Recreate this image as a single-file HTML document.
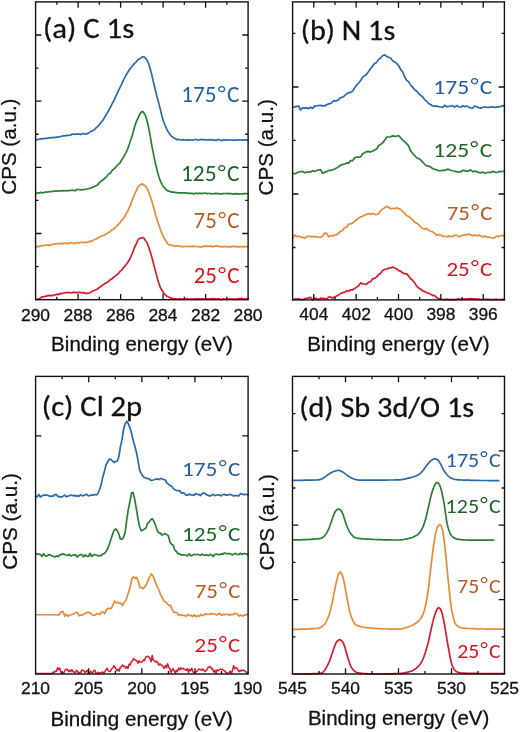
<!DOCTYPE html>
<html><head><meta charset="utf-8"><title>XPS spectra</title>
<style>html,body{margin:0;padding:0;background:#fff;}svg{display:block;}</style></head>
<body><svg width="520" height="732" viewBox="0 0 520 732">
<rect width="520" height="732" fill="#fff"/>
<polyline points="36.0,139.8 37.5,139.7 39.0,139.3 40.5,138.7 42.0,139.0 43.5,138.7 45.0,138.3 46.5,138.3 48.0,138.1 49.5,137.9 51.0,137.7 52.5,137.7 54.0,137.3 55.5,137.3 57.0,137.0 58.5,137.1 60.0,136.7 61.5,136.3 63.0,135.9 64.5,135.8 66.0,135.6 67.5,135.3 69.0,135.5 70.5,135.2 72.0,134.1 73.5,134.1 75.0,134.3 76.5,134.1 78.0,134.2 79.5,134.1 81.0,134.5 82.5,133.6 84.0,133.7 85.5,134.2 87.0,133.6 88.5,133.1 90.0,132.1 91.5,131.0 93.0,130.6 94.5,129.6 96.0,127.9 97.5,126.6 99.0,125.0 100.5,123.0 102.0,121.3 103.5,119.2 105.0,116.8 106.5,114.1 108.0,111.8 109.5,109.1 111.0,106.2 112.5,103.0 114.0,100.3 115.5,96.8 117.0,94.1 118.5,90.4 120.0,87.7 121.5,84.5 123.0,81.2 124.5,78.1 126.0,75.2 127.5,72.8 129.0,70.3 130.5,68.2 132.0,66.5 133.5,64.4 135.0,62.9 136.5,61.6 138.0,59.6 139.5,58.9 141.0,57.9 142.5,56.8 144.0,57.0 145.5,58.2 147.0,60.0 148.5,63.4 150.0,67.9 151.5,73.4 153.0,80.4 154.5,86.5 156.0,92.7 157.5,98.6 159.0,104.1 160.5,110.0 162.0,116.4 163.5,121.5 165.0,125.2 166.5,128.7 168.0,131.5 169.5,133.8 171.0,135.8 172.5,137.1 174.0,137.9 175.5,138.7 177.0,139.7 178.5,139.3 180.0,140.0 181.5,140.0 183.0,139.6 184.5,140.0 186.0,139.8 187.5,140.1 189.0,139.9 190.5,140.0 192.0,140.1 193.5,139.9 195.0,139.5 196.5,139.4 198.0,140.2 199.5,139.7 201.0,139.5 202.5,139.7 204.0,139.7 205.5,140.0 207.0,139.8 208.5,139.8 210.0,139.7 211.5,140.0 213.0,139.7 214.5,140.2 216.0,140.4 217.5,139.7 219.0,139.5 220.5,140.3 222.0,140.7 223.5,139.8 225.0,139.8 226.5,140.2 228.0,139.9 229.5,140.0 231.0,140.0 232.5,140.2 234.0,140.0 235.5,140.2 237.0,140.1 238.5,139.9 240.0,140.0 241.5,139.9 243.0,140.1 244.5,139.8 246.0,139.8 247.5,140.5 248.0,140.1" fill="none" stroke="#2a6aab" stroke-width="1.7" stroke-linejoin="round" stroke-linecap="round"/>
<polyline points="36.0,193.4 37.5,193.0 39.0,192.9 40.5,192.2 42.0,193.0 43.5,192.7 45.0,192.1 46.5,192.2 48.0,191.9 49.5,191.5 51.0,191.8 52.5,191.3 54.0,191.2 55.5,191.0 57.0,191.2 58.5,190.9 60.0,191.0 61.5,190.7 63.0,190.8 64.5,190.5 66.0,190.8 67.5,190.6 69.0,190.6 70.5,190.5 72.0,190.1 73.5,190.4 75.0,190.7 76.5,189.7 78.0,189.5 79.5,189.5 81.0,189.9 82.5,189.6 84.0,189.7 85.5,189.4 87.0,189.0 88.5,188.7 90.0,188.2 91.5,188.0 93.0,187.0 94.5,186.5 96.0,185.7 97.5,185.0 99.0,183.1 100.5,181.7 102.0,180.5 103.5,179.6 105.0,177.9 106.5,176.9 108.0,174.6 109.5,173.8 111.0,172.2 112.5,170.0 114.0,168.8 115.5,167.5 117.0,165.7 118.5,164.3 120.0,162.8 121.5,160.3 123.0,157.9 124.5,155.3 126.0,152.7 127.5,149.3 129.0,145.4 130.5,140.8 132.0,136.2 133.5,130.7 135.0,125.6 136.5,121.1 138.0,118.2 139.5,114.7 141.0,112.2 142.5,111.4 144.0,112.9 145.5,115.8 147.0,120.8 148.5,127.1 150.0,134.9 151.5,143.8 153.0,151.6 154.5,159.2 156.0,165.8 157.5,171.8 159.0,177.2 160.5,181.2 162.0,184.4 163.5,186.8 165.0,188.4 166.5,190.1 168.0,191.1 169.5,191.1 171.0,192.1 172.5,191.9 174.0,192.4 175.5,192.4 177.0,192.7 178.5,192.8 180.0,192.8 181.5,192.8 183.0,192.8 184.5,192.8 186.0,192.7 187.5,193.1 189.0,193.3 190.5,193.4 192.0,193.4 193.5,193.9 195.0,193.4 196.5,193.2 198.0,193.8 199.5,193.1 201.0,193.6 202.5,193.2 204.0,193.5 205.5,193.0 207.0,193.7 208.5,193.5 210.0,193.3 211.5,194.0 213.0,193.7 214.5,193.6 216.0,193.4 217.5,193.6 219.0,193.6 220.5,193.8 222.0,193.9 223.5,193.5 225.0,193.5 226.5,193.6 228.0,193.4 229.5,193.6 231.0,193.7 232.5,193.9 234.0,194.1 235.5,193.6 237.0,193.9 238.5,193.7 240.0,194.3 241.5,193.8 243.0,193.9 244.5,193.6 246.0,193.6 247.5,193.9 248.0,193.7" fill="none" stroke="#2c7f32" stroke-width="1.7" stroke-linejoin="round" stroke-linecap="round"/>
<polyline points="36.0,247.5 37.5,246.1 39.0,246.6 40.5,246.0 42.0,245.8 43.5,245.6 45.0,245.0 46.5,245.2 48.0,244.8 49.5,245.7 51.0,244.7 52.5,244.3 54.0,244.2 55.5,243.9 57.0,243.6 58.5,243.6 60.0,243.7 61.5,243.4 63.0,243.6 64.5,243.2 66.0,243.2 67.5,243.6 69.0,243.2 70.5,242.9 72.0,243.0 73.5,243.1 75.0,243.4 76.5,242.7 78.0,242.7 79.5,242.9 81.0,242.3 82.5,242.4 84.0,242.6 85.5,242.4 87.0,242.1 88.5,242.1 90.0,241.0 91.5,241.6 93.0,240.4 94.5,239.4 96.0,239.0 97.5,238.3 99.0,237.3 100.5,236.5 102.0,236.0 103.5,235.3 105.0,234.9 106.5,233.9 108.0,232.8 109.5,232.1 111.0,230.7 112.5,229.5 114.0,228.7 115.5,227.4 117.0,225.8 118.5,224.2 120.0,222.8 121.5,220.3 123.0,219.0 124.5,216.8 126.0,213.9 127.5,211.6 129.0,208.1 130.5,205.2 132.0,200.6 133.5,196.8 135.0,193.5 136.5,190.1 138.0,186.7 139.5,185.4 141.0,184.4 142.5,183.8 144.0,185.2 145.5,186.0 147.0,188.4 148.5,191.2 150.0,195.8 151.5,199.9 153.0,205.3 154.5,210.4 156.0,216.3 157.5,221.0 159.0,225.6 160.5,229.9 162.0,233.7 163.5,236.9 165.0,239.6 166.5,241.8 168.0,244.2 169.5,244.6 171.0,245.2 172.5,245.5 174.0,245.9 175.5,246.2 177.0,245.9 178.5,245.9 180.0,246.4 181.5,246.7 183.0,246.6 184.5,246.5 186.0,246.3 187.5,246.5 189.0,246.3 190.5,246.6 192.0,246.2 193.5,246.4 195.0,246.4 196.5,246.5 198.0,246.5 199.5,247.0 201.0,246.8 202.5,246.8 204.0,245.9 205.5,246.3 207.0,246.2 208.5,246.5 210.0,245.8 211.5,246.7 213.0,246.7 214.5,246.1 216.0,246.2 217.5,246.2 219.0,246.4 220.5,246.6 222.0,247.0 223.5,246.4 225.0,246.7 226.5,246.5 228.0,246.9 229.5,246.7 231.0,246.9 232.5,246.3 234.0,246.5 235.5,246.4 237.0,247.0 238.5,246.8 240.0,246.6 241.5,246.6 243.0,246.8 244.5,246.6 246.0,246.5 247.5,246.9 248.0,247.4" fill="none" stroke="#ea8a36" stroke-width="1.7" stroke-linejoin="round" stroke-linecap="round"/>
<polyline points="36.0,299.5 37.5,299.0 39.0,298.8 40.5,297.9 42.0,296.8 43.5,296.8 45.0,296.3 46.5,296.2 48.0,295.4 49.5,295.7 51.0,295.4 52.5,295.6 54.0,295.0 55.5,294.9 57.0,294.1 58.5,294.8 60.0,293.4 61.5,293.8 63.0,293.2 64.5,292.8 66.0,292.6 67.5,292.5 69.0,292.7 70.5,292.6 72.0,293.0 73.5,292.1 75.0,292.6 76.5,292.4 78.0,292.8 79.5,292.1 81.0,292.6 82.5,292.9 84.0,292.6 85.5,293.4 87.0,293.2 88.5,293.3 90.0,292.8 91.5,291.7 93.0,291.0 94.5,290.3 96.0,289.8 97.5,289.0 99.0,287.7 100.5,286.7 102.0,285.6 103.5,284.5 105.0,283.6 106.5,282.5 108.0,282.0 109.5,280.4 111.0,279.3 112.5,278.4 114.0,276.9 115.5,275.9 117.0,274.7 118.5,273.5 120.0,271.4 121.5,270.4 123.0,268.3 124.5,266.6 126.0,264.8 127.5,262.8 129.0,260.6 130.5,257.7 132.0,254.0 133.5,250.2 135.0,246.4 136.5,243.5 138.0,240.0 139.5,238.3 141.0,238.2 142.5,237.5 144.0,238.3 145.5,240.7 147.0,242.5 148.5,246.7 150.0,251.0 151.5,256.1 153.0,261.5 154.5,267.4 156.0,273.1 157.5,278.7 159.0,283.8 160.5,287.9 162.0,290.1 163.5,293.1 165.0,294.4 166.5,295.9 168.0,296.8 169.5,297.6 171.0,298.1 172.5,298.3 174.0,298.8 175.5,298.7 177.0,299.2 178.5,298.9 180.0,298.9 181.5,299.2 183.0,299.0 184.5,298.9 186.0,298.9 187.5,298.9 189.0,299.2 190.5,299.1 192.0,299.0 193.5,299.1 195.0,298.8 196.5,299.0 198.0,298.5 199.5,299.2 201.0,298.9 202.5,298.9 204.0,299.0 205.5,298.9 207.0,298.8 208.5,299.2 210.0,298.9 211.5,298.7 213.0,299.0 214.5,298.5 216.0,299.3 217.5,298.9 219.0,298.9 220.5,299.5 222.0,299.4 223.5,298.9 225.0,299.1 226.5,299.2 228.0,299.3 229.5,298.9 231.0,298.9 232.5,299.2 234.0,299.0 235.5,299.1 237.0,299.1 238.5,298.6 240.0,298.7 241.5,298.2 243.0,298.8 244.5,299.2 246.0,298.6 247.5,299.2 248.0,299.1" fill="none" stroke="#d81b2e" stroke-width="1.7" stroke-linejoin="round" stroke-linecap="round"/>
<rect x="35.6" y="1.9" width="212.50" height="297.80" fill="none" stroke="#111111" stroke-width="1.4"/>
<path d="M56.85 299.7v-2.9M56.85 1.9v2.9M78.10 299.7v-5.8M78.10 1.9v5.8M99.35 299.7v-2.9M99.35 1.9v2.9M120.60 299.7v-5.8M120.60 1.9v5.8M141.85 299.7v-2.9M141.85 1.9v2.9M163.10 299.7v-5.8M163.10 1.9v5.8M184.35 299.7v-2.9M184.35 1.9v2.9M205.60 299.7v-5.8M205.60 1.9v5.8M226.85 299.7v-2.9M226.85 1.9v2.9" stroke="#111111" stroke-width="1.3" fill="none"/>
<path d="M35.6 266.61h2.9M248.1 266.61h-2.9M35.6 233.52h5.8M248.1 233.52h-5.8M35.6 200.43h2.9M248.1 200.43h-2.9M35.6 167.34h5.8M248.1 167.34h-5.8M35.6 134.26h2.9M248.1 134.26h-2.9M35.6 101.17h5.8M248.1 101.17h-5.8M35.6 68.08h2.9M248.1 68.08h-2.9M35.6 34.99h5.8M248.1 34.99h-5.8" stroke="#111111" stroke-width="1.3" fill="none"/>
<polyline points="292.6,107.3 294.6,106.9 296.6,106.4 298.6,106.0 300.6,110.0 302.6,107.7 304.6,108.1 306.6,107.9 308.6,108.7 310.6,107.2 312.6,108.4 314.6,106.1 316.6,106.0 318.6,105.5 320.6,105.4 322.6,105.9 324.6,105.9 326.6,104.7 328.6,103.9 330.6,103.5 332.6,101.8 334.6,100.6 336.6,101.0 338.6,99.5 340.6,97.7 342.6,97.1 344.6,95.7 346.6,93.9 348.6,92.7 350.6,92.4 352.6,91.1 354.6,88.0 356.6,85.1 358.6,83.2 360.6,80.6 362.6,77.3 364.6,75.7 366.6,74.2 368.6,71.5 370.6,68.5 372.6,65.9 374.6,63.5 376.6,62.4 378.6,59.4 380.6,58.0 382.6,55.8 384.6,54.9 386.6,56.4 388.6,57.3 390.6,58.0 392.6,60.7 394.6,61.9 396.6,63.4 398.6,65.5 400.6,69.4 402.6,71.7 404.6,76.7 406.6,80.3 408.6,81.6 410.6,85.2 412.6,87.0 414.6,89.7 416.6,91.0 418.6,93.3 420.6,95.4 422.6,96.7 424.6,99.6 426.6,101.3 428.6,103.5 430.6,104.5 432.6,106.0 434.6,106.2 436.6,106.0 438.6,106.6 440.6,107.0 442.6,107.3 444.6,105.3 446.6,106.7 448.6,106.5 450.6,106.2 452.6,105.6 454.6,107.1 456.6,105.6 458.6,106.8 460.6,107.3 462.6,105.7 464.6,106.6 466.6,106.0 468.6,107.0 470.6,107.8 472.6,108.2 474.6,106.0 476.6,106.7 478.6,107.6 480.6,108.1 482.6,107.5 484.6,106.8 486.6,107.5 488.6,107.3 490.6,107.2 492.6,106.8 494.6,107.4 496.6,107.2 498.6,106.8 500.6,106.5 502.6,105.6 504.4,105.9" fill="none" stroke="#2a6aab" stroke-width="1.7" stroke-linejoin="round" stroke-linecap="round"/>
<polyline points="292.6,173.2 294.6,173.7 296.6,173.1 298.6,171.8 300.6,171.7 302.6,171.6 304.6,172.8 306.6,172.1 308.6,172.2 310.6,171.9 312.6,170.7 314.6,171.5 316.6,170.4 318.6,170.0 320.6,169.7 322.6,173.3 324.6,172.4 326.6,171.6 328.6,170.3 330.6,170.3 332.6,170.0 334.6,169.0 336.6,167.9 338.6,166.7 340.6,165.2 342.6,164.4 344.6,164.0 346.6,163.1 348.6,163.1 350.6,160.6 352.6,160.7 354.6,158.0 356.6,157.0 358.6,157.2 360.6,156.9 362.6,153.7 364.6,152.7 366.6,151.6 368.6,151.4 370.6,152.1 372.6,151.0 374.6,150.1 376.6,149.0 378.6,145.6 380.6,144.4 382.6,142.9 384.6,140.4 386.6,137.2 388.6,137.0 390.6,136.8 392.6,135.8 394.6,136.1 396.6,136.3 398.6,135.5 400.6,137.8 402.6,140.1 404.6,141.7 406.6,143.6 408.6,146.0 410.6,150.9 412.6,153.3 414.6,155.5 416.6,157.7 418.6,158.5 420.6,159.9 422.6,162.0 424.6,164.3 426.6,165.9 428.6,166.1 430.6,167.0 432.6,168.6 434.6,169.3 436.6,169.9 438.6,170.5 440.6,170.8 442.6,170.2 444.6,170.5 446.6,169.4 448.6,169.4 450.6,170.2 452.6,170.7 454.6,171.2 456.6,171.6 458.6,172.1 460.6,172.0 462.6,170.3 464.6,170.7 466.6,171.1 468.6,171.1 470.6,169.8 472.6,171.7 474.6,171.1 476.6,171.6 478.6,172.4 480.6,173.0 482.6,171.9 484.6,173.4 486.6,172.8 488.6,172.3 490.6,172.5 492.6,171.3 494.6,172.1 496.6,172.5 498.6,171.7 500.6,171.7 502.6,171.5 504.4,171.2" fill="none" stroke="#2c7f32" stroke-width="1.7" stroke-linejoin="round" stroke-linecap="round"/>
<polyline points="292.6,239.0 294.6,234.9 296.6,236.6 298.6,236.0 300.6,237.2 302.6,237.3 304.6,238.4 306.6,236.9 308.6,236.0 310.6,236.5 312.6,236.6 314.6,236.5 316.6,236.8 318.6,237.3 320.6,237.3 322.6,236.0 324.6,233.2 326.6,233.2 328.6,236.9 330.6,235.5 332.6,236.1 334.6,235.0 336.6,234.8 338.6,233.3 340.6,231.2 342.6,230.5 344.6,227.5 346.6,227.3 348.6,224.2 350.6,223.9 352.6,223.1 354.6,221.3 356.6,219.8 358.6,218.1 360.6,216.9 362.6,216.3 364.6,215.2 366.6,214.2 368.6,213.5 370.6,214.5 372.6,213.3 374.6,214.3 376.6,214.5 378.6,213.8 380.6,210.6 382.6,209.1 384.6,207.8 386.6,206.4 388.6,207.2 390.6,208.8 392.6,208.3 394.6,208.5 396.6,207.9 398.6,208.6 400.6,209.4 402.6,211.4 404.6,213.2 406.6,215.8 408.6,216.4 410.6,218.2 412.6,219.8 414.6,222.2 416.6,223.1 418.6,224.6 420.6,226.9 422.6,228.5 424.6,229.3 426.6,228.3 428.6,230.3 430.6,231.2 432.6,231.9 434.6,233.2 436.6,235.2 438.6,234.6 440.6,234.9 442.6,236.3 444.6,236.3 446.6,236.6 448.6,236.1 450.6,236.4 452.6,236.6 454.6,235.1 456.6,235.1 458.6,236.6 460.6,236.3 462.6,235.2 464.6,234.6 466.6,234.8 468.6,234.1 470.6,234.6 472.6,235.9 474.6,235.0 476.6,235.8 478.6,235.1 480.6,235.7 482.6,236.9 484.6,235.9 486.6,237.0 488.6,237.2 490.6,237.5 492.6,238.2 494.6,237.6 496.6,236.1 498.6,236.6 500.6,235.8 502.6,235.3 504.4,236.5" fill="none" stroke="#ea8a36" stroke-width="1.7" stroke-linejoin="round" stroke-linecap="round"/>
<polyline points="292.6,299.6 294.6,299.2 296.6,299.0 298.6,298.7 300.6,299.2 302.6,299.8 304.6,298.7 306.6,298.4 308.6,297.8 310.6,297.4 312.6,300.1 314.6,298.2 316.6,298.5 318.6,299.6 320.6,298.1 322.6,298.3 324.6,298.5 326.6,299.0 328.6,297.1 330.6,297.1 332.6,298.0 334.6,296.9 336.6,295.9 338.6,294.9 340.6,293.6 342.6,292.7 344.6,292.4 346.6,290.7 348.6,291.2 350.6,289.8 352.6,289.8 354.6,288.6 356.6,287.1 358.6,285.7 360.6,282.9 362.6,283.8 364.6,284.0 366.6,284.3 368.6,282.1 370.6,281.7 372.6,278.9 374.6,278.4 376.6,276.9 378.6,274.6 380.6,273.5 382.6,270.4 384.6,269.4 386.6,269.0 388.6,268.1 390.6,268.1 392.6,267.0 394.6,267.8 396.6,269.0 398.6,270.6 400.6,271.1 402.6,272.9 404.6,273.7 406.6,273.9 408.6,275.9 410.6,278.8 412.6,280.2 414.6,282.7 416.6,286.2 418.6,287.9 420.6,289.2 422.6,290.7 424.6,291.6 426.6,292.5 428.6,293.2 430.6,294.2 432.6,295.3 434.6,295.6 436.6,297.4 438.6,298.6 440.6,299.1 442.6,299.5 444.6,299.6 446.6,299.2 448.6,299.6 450.6,299.3 452.6,299.7 454.6,299.7 456.6,299.3 458.6,298.9 460.6,299.3 462.6,299.1 464.6,299.1 466.6,298.8 468.6,298.8 470.6,298.6 472.6,298.8 474.6,298.8 476.6,299.2 478.6,299.1 480.6,299.5 482.6,299.3 484.6,299.4 486.6,299.4 488.6,299.4 490.6,299.6 492.6,299.5 494.6,299.3 496.6,299.4 498.6,299.5 500.6,299.7 502.6,299.4 504.4,299.8" fill="none" stroke="#d81b2e" stroke-width="1.7" stroke-linejoin="round" stroke-linecap="round"/>
<rect x="292.6" y="1.9" width="211.80" height="298.00" fill="none" stroke="#111111" stroke-width="1.4"/>
<path d="M313.78 299.9v-5.8M313.78 1.9v5.8M334.96 299.9v-2.9M334.96 1.9v2.9M356.14 299.9v-5.8M356.14 1.9v5.8M377.32 299.9v-2.9M377.32 1.9v2.9M398.50 299.9v-5.8M398.50 1.9v5.8M419.68 299.9v-2.9M419.68 1.9v2.9M440.86 299.9v-5.8M440.86 1.9v5.8M462.04 299.9v-2.9M462.04 1.9v2.9M483.22 299.9v-5.8M483.22 1.9v5.8" stroke="#111111" stroke-width="1.3" fill="none"/>
<path d="M292.6 33.40h2.9M504.4 33.40h-2.9M292.6 87.00h5.8M504.4 87.00h-5.8M292.6 140.40h2.9M504.4 140.40h-2.9M292.6 194.00h5.8M504.4 194.00h-5.8M292.6 247.50h2.9M504.4 247.50h-2.9" stroke="#111111" stroke-width="1.3" fill="none"/>
<polyline points="35.6,496.1 37.2,496.9 38.8,494.5 40.4,497.0 42.0,495.8 43.6,495.2 45.2,495.2 46.8,495.0 48.4,495.6 50.0,496.4 51.6,496.2 53.2,496.2 54.8,494.6 56.4,494.6 58.0,496.8 59.6,496.4 61.2,497.2 62.8,496.5 64.4,495.0 66.0,496.6 67.6,496.1 69.2,495.8 70.8,495.0 72.4,495.6 74.0,495.4 75.6,496.1 77.2,495.6 78.8,496.5 80.4,494.8 82.0,495.7 83.6,495.7 85.2,494.7 86.8,494.4 88.4,495.9 90.0,495.5 91.6,494.9 93.2,495.2 94.8,494.4 96.4,495.0 98.0,493.5 99.6,489.5 101.2,484.6 102.8,476.9 104.4,471.6 106.0,465.0 107.6,462.0 109.2,459.1 110.8,459.3 112.4,460.9 114.0,462.4 115.6,461.6 117.2,461.2 118.8,456.9 120.4,446.8 122.0,439.6 123.6,429.2 125.2,423.6 126.8,421.1 128.4,424.0 130.0,427.8 131.6,433.6 133.2,440.5 134.8,446.0 136.4,452.2 138.0,460.7 139.6,469.8 141.2,473.5 142.8,476.1 144.4,477.5 146.0,478.0 147.6,478.6 149.2,478.8 150.8,480.5 152.4,480.2 154.0,479.8 155.6,479.2 157.2,478.9 158.8,479.6 160.4,478.6 162.0,478.7 163.6,479.6 165.2,479.9 166.8,482.9 168.4,484.2 170.0,485.4 171.6,486.3 173.2,488.3 174.8,489.7 176.4,490.4 178.0,490.7 179.6,490.5 181.2,493.0 182.8,492.8 184.4,493.2 186.0,495.1 187.6,495.2 189.2,494.1 190.8,495.0 192.4,494.8 194.0,495.5 195.6,493.4 197.2,494.3 198.8,494.5 200.4,495.6 202.0,493.9 203.6,492.6 205.2,493.7 206.8,494.9 208.4,495.4 210.0,496.1 211.6,495.2 213.2,494.4 214.8,495.6 216.4,495.0 218.0,494.9 219.6,495.1 221.2,496.0 222.8,494.5 224.4,494.4 226.0,495.1 227.6,495.1 229.2,494.5 230.8,494.5 232.4,495.4 234.0,496.0 235.6,495.6 237.2,495.6 238.8,496.0 240.4,493.7 242.0,494.0 243.6,494.6 245.2,494.3 246.8,494.4 248.1,495.1" fill="none" stroke="#2a6aab" stroke-width="1.7" stroke-linejoin="round" stroke-linecap="round"/>
<polyline points="35.6,553.9 37.2,554.1 38.8,554.0 40.4,554.6 42.0,556.3 43.6,553.8 45.2,555.9 46.8,556.2 48.4,554.9 50.0,554.6 51.6,555.6 53.2,556.2 54.8,557.0 56.4,556.0 58.0,556.6 59.6,554.9 61.2,554.6 62.8,553.9 64.4,554.4 66.0,555.0 67.6,555.5 69.2,554.3 70.8,556.0 72.4,555.3 74.0,554.9 75.6,554.8 77.2,557.0 78.8,555.5 80.4,554.7 82.0,554.6 83.6,556.9 85.2,554.9 86.8,556.3 88.4,556.5 90.0,553.5 91.6,556.5 93.2,555.2 94.8,554.5 96.4,555.0 98.0,555.8 99.6,555.7 101.2,555.7 102.8,553.9 104.4,553.6 106.0,551.5 107.6,548.8 109.2,544.5 110.8,539.8 112.4,534.7 114.0,530.3 115.6,529.0 117.2,530.7 118.8,533.9 120.4,539.2 122.0,539.2 123.6,537.2 125.2,532.3 126.8,519.3 128.4,509.0 130.0,501.1 131.6,492.8 133.2,492.6 134.8,499.9 136.4,509.0 138.0,518.9 139.6,526.8 141.2,530.7 142.8,530.1 144.4,529.2 146.0,527.8 147.6,523.2 149.2,522.1 150.8,519.6 152.4,518.8 154.0,521.4 155.6,525.5 157.2,530.4 158.8,532.9 160.4,533.1 162.0,535.1 163.6,534.3 165.2,533.6 166.8,534.6 168.4,536.0 170.0,542.2 171.6,544.2 173.2,545.3 174.8,550.2 176.4,551.5 178.0,553.8 179.6,553.7 181.2,555.1 182.8,554.7 184.4,555.0 186.0,555.0 187.6,555.9 189.2,553.8 190.8,555.8 192.4,555.4 194.0,554.3 195.6,554.7 197.2,554.3 198.8,554.7 200.4,555.3 202.0,554.0 203.6,555.1 205.2,555.2 206.8,554.9 208.4,555.7 210.0,554.3 211.6,555.0 213.2,556.4 214.8,554.4 216.4,554.3 218.0,554.4 219.6,554.9 221.2,553.9 222.8,554.2 224.4,553.0 226.0,553.6 227.6,553.6 229.2,553.5 230.8,554.0 232.4,555.0 234.0,554.1 235.6,553.3 237.2,554.6 238.8,554.5 240.4,553.3 242.0,554.5 243.6,553.5 245.2,553.9 246.8,553.8 248.1,555.1" fill="none" stroke="#2c7f32" stroke-width="1.7" stroke-linejoin="round" stroke-linecap="round"/>
<polyline points="58.4,615.2 60.0,613.3 61.6,611.6 63.2,611.5 64.8,616.1 66.4,614.4 68.0,616.2 69.6,615.1 71.2,614.7 72.8,614.2 74.4,613.4 76.0,612.4 77.6,612.8 79.2,615.8 80.8,615.1 82.4,615.1 84.0,613.9 85.6,613.1 87.2,612.4 88.8,612.4 90.4,612.9 92.0,614.7 93.6,615.1 95.2,615.3 96.8,613.5 98.4,614.0 100.0,614.4 101.6,612.1 103.2,612.0 104.8,613.6 106.4,609.8 108.0,608.5 109.6,608.4 111.2,608.5 112.8,605.6 114.4,601.0 116.0,602.6 117.6,602.6 119.2,603.2 120.8,603.2 122.4,605.6 124.0,602.5 125.6,601.0 127.2,596.5 128.8,591.6 130.4,585.8 132.0,578.7 133.6,576.8 135.2,578.2 136.8,577.3 138.4,582.1 140.0,587.3 141.6,587.5 143.2,588.7 144.8,586.9 146.4,584.5 148.0,580.1 149.6,577.2 151.2,574.0 152.8,575.6 154.4,579.0 156.0,583.8 157.6,587.7 159.2,590.6 160.8,595.2 162.4,597.7 164.0,601.3 165.6,601.8 167.2,603.8 168.8,605.2 170.4,605.3 172.0,609.1 173.6,612.1 175.2,612.5 176.8,612.3 178.4,615.3 180.0,614.7 181.6,615.1 183.2,615.3 184.8,615.6 186.4,616.2 188.0,614.4 189.6,615.6 191.2,615.3 192.8,616.5 194.4,614.7 196.0,616.7 197.6,615.8 199.2,616.5 200.8,614.5 202.4,615.6 204.0,615.1 205.6,613.6 207.2,614.5 208.8,614.3 210.4,613.9 212.0,614.1 213.6,613.5 215.2,614.3 216.8,615.0 218.4,614.1 220.0,613.4 221.6,615.5 223.2,614.4 224.8,614.7 226.4,614.5 228.0,614.3 229.6,615.2 231.2,614.3 232.8,614.7 234.4,613.5 236.0,613.4 237.6,614.4 239.2,616.2 240.8,614.8 242.4,616.2 244.0,615.1 245.6,615.1 247.2,614.2 248.1,614.7" fill="none" stroke="#ea8a36" stroke-width="1.7" stroke-linejoin="round" stroke-linecap="round"/>
<polyline points="35.6,614.8 58.4,614.8" fill="none" stroke="#ea8a36" stroke-width="1.5"/>
<polyline points="35.6,673.4 36.7,673.4 37.8,673.4 38.9,673.4 40.0,673.4 41.1,673.4 42.2,673.4 43.3,673.4 44.4,673.4 45.5,673.4 46.6,673.4 47.7,673.4 48.8,673.4 49.9,673.4 51.0,673.4 52.1,673.4 53.2,672.0 54.3,672.7 55.4,671.0 56.5,671.3 57.6,667.7 58.7,669.6 59.8,668.1 60.9,672.7 62.0,672.9 63.1,673.4 64.2,672.3 65.3,669.7 66.4,669.3 67.5,669.5 68.6,671.7 69.7,670.2 70.8,671.6 71.9,669.7 73.0,671.5 74.1,672.1 75.2,673.2 76.3,670.4 77.4,670.9 78.5,673.4 79.6,672.3 80.7,672.9 81.8,670.1 82.9,670.2 84.0,671.0 85.1,672.6 86.2,671.2 87.3,670.3 88.4,673.4 89.5,673.4 90.6,671.2 91.7,672.6 92.8,672.7 93.9,670.5 95.0,670.3 96.1,673.4 97.2,673.4 98.3,672.2 99.4,673.4 100.5,672.9 101.6,672.5 102.7,672.0 103.8,673.4 104.9,671.7 106.0,669.7 107.1,668.3 108.2,670.6 109.3,671.4 110.4,671.6 111.5,668.8 112.6,668.2 113.7,665.9 114.8,666.9 115.9,668.8 117.0,670.9 118.1,669.2 119.2,671.2 120.3,667.2 121.4,666.8 122.5,665.0 123.6,666.4 124.7,666.1 125.8,668.3 126.9,666.7 128.0,668.4 129.1,664.1 130.2,665.0 131.3,661.8 132.4,660.9 133.5,658.5 134.6,659.8 135.7,660.3 136.8,660.8 137.9,663.2 139.0,660.7 140.1,662.2 141.2,661.9 142.3,662.0 143.4,659.9 144.5,660.6 145.6,657.2 146.7,656.6 147.8,656.2 148.9,657.1 150.0,658.4 151.1,661.8 152.2,655.5 153.3,660.3 154.4,660.8 155.5,662.1 156.6,661.3 157.7,662.5 158.8,665.1 159.9,663.9 161.0,665.0 162.1,665.6 163.2,666.8 164.3,668.6 165.4,665.4 166.5,667.8 167.6,663.7 168.7,667.0 169.8,668.5 170.9,672.6 172.0,670.2 173.1,668.6 174.2,670.9 175.3,673.4 176.4,670.2 177.5,671.6 178.6,668.0 179.7,670.0 180.8,667.9 181.9,668.9 183.0,668.4 184.1,669.3 185.2,669.7 186.3,670.3 187.4,668.5 188.5,672.2 189.6,669.4 190.7,670.8 191.8,668.1 192.9,671.9 194.0,672.7 195.1,672.8 196.2,671.6 197.3,671.1 198.4,669.3 199.5,669.3 200.6,669.5 201.7,670.2 202.8,669.1 203.9,670.4 205.0,671.6 206.1,670.6 207.2,669.2 208.3,667.0 209.4,667.2 210.5,666.6 211.6,668.9 212.7,668.9 213.8,672.1 214.9,670.4 216.0,673.4 217.1,669.8 218.2,670.7 219.3,669.7 220.4,669.1 221.5,669.4 222.6,669.3 223.7,670.4 224.8,671.0 225.9,672.5 227.0,673.0 228.1,673.4 229.2,672.6 230.3,671.0 231.4,673.4 232.5,670.6 233.6,665.7 234.7,668.7 235.8,667.4 236.9,668.2 238.0,670.1 239.1,671.6 240.2,670.3 241.3,671.1 242.4,670.2 243.5,670.0 244.6,671.0 245.7,671.4 246.8,673.4 247.9,673.4 248.1,672.0" fill="none" stroke="#d81b2e" stroke-width="1.5" stroke-linejoin="round" stroke-linecap="round"/>
<rect x="35.6" y="376.4" width="212.50" height="297.60" fill="none" stroke="#111111" stroke-width="1.4"/>
<path d="M62.16 674.0v-2.9M62.16 376.4v2.9M88.72 674.0v-5.8M88.72 376.4v5.8M115.29 674.0v-2.9M115.29 376.4v2.9M141.85 674.0v-5.8M141.85 376.4v5.8M168.41 674.0v-2.9M168.41 376.4v2.9M194.97 674.0v-5.8M194.97 376.4v5.8M221.54 674.0v-2.9M221.54 376.4v2.9" stroke="#111111" stroke-width="1.3" fill="none"/>
<path d="M35.6 435.80h5.8M248.1 435.80h-5.8" stroke="#111111" stroke-width="1.3" fill="none"/>
<polyline points="292.5,480.3 293.2,480.3 293.9,480.3 294.6,480.3 295.3,480.3 296.0,480.3 296.7,480.3 297.4,480.3 298.1,480.3 298.8,480.3 299.5,480.3 300.2,480.3 300.9,480.3 301.6,480.3 302.3,480.3 303.0,480.3 303.7,480.2 304.4,480.2 305.1,480.2 305.8,480.2 306.5,480.2 307.2,480.2 307.9,480.2 308.6,480.2 309.3,480.2 310.0,480.1 310.7,480.1 311.4,480.1 312.1,480.1 312.8,480.1 313.5,480.1 314.2,480.0 314.9,480.0 315.6,480.0 316.3,480.0 317.0,480.0 317.7,479.9 318.4,479.9 319.1,479.8 319.8,479.7 320.5,479.4 321.2,479.1 321.9,478.8 322.6,478.4 323.3,478.0 324.0,477.6 324.7,477.2 325.4,476.6 326.1,476.1 326.8,475.5 327.5,475.0 328.2,474.5 328.9,474.1 329.6,473.6 330.3,473.2 331.0,472.8 331.7,472.4 332.4,472.0 333.1,471.7 333.8,471.5 334.5,471.3 335.2,471.0 335.9,470.8 336.6,470.6 337.3,470.5 338.0,470.4 338.7,470.4 339.4,470.5 340.1,470.7 340.8,471.0 341.5,471.4 342.2,471.7 342.9,472.1 343.6,472.6 344.3,473.1 345.0,473.6 345.7,474.1 346.4,474.6 347.1,475.2 347.8,475.7 348.5,476.2 349.2,476.6 349.9,477.1 350.6,477.5 351.3,477.9 352.0,478.2 352.7,478.5 353.4,478.8 354.1,479.1 354.8,479.3 355.5,479.5 356.2,479.7 356.9,479.8 357.6,479.9 358.3,480.0 359.0,480.1 359.7,480.1 360.4,480.2 361.1,480.2 361.8,480.2 362.5,480.2 363.2,480.2 363.9,480.2 364.6,480.2 365.3,480.2 366.0,480.2 366.7,480.2 367.4,480.2 368.1,480.2 368.8,480.2 369.5,480.2 370.2,480.2 370.9,480.2 371.6,480.2 372.3,480.2 373.0,480.2 373.7,480.2 374.4,480.2 375.1,480.2 375.8,480.2 376.5,480.2 377.2,480.2 377.9,480.1 378.6,480.1 379.3,480.1 380.0,480.1 380.7,480.1 381.4,480.1 382.1,480.1 382.8,480.1 383.5,480.1 384.2,480.1 384.9,480.1 385.6,480.1 386.3,480.1 387.0,480.1 387.7,480.1 388.4,480.0 389.1,480.0 389.8,480.0 390.5,480.0 391.2,480.0 391.9,480.0 392.6,480.0 393.3,480.0 394.0,480.0 394.7,480.0 395.4,479.9 396.1,479.9 396.8,479.9 397.5,479.9 398.2,479.9 398.9,479.9 399.6,479.8 400.3,479.8 401.0,479.7 401.7,479.6 402.4,479.5 403.1,479.3 403.8,479.2 404.5,479.1 405.2,478.9 405.9,478.8 406.6,478.6 407.3,478.4 408.0,478.2 408.7,478.1 409.4,477.9 410.1,477.7 410.8,477.5 411.5,477.4 412.2,477.2 412.9,477.0 413.6,476.7 414.3,476.5 415.0,476.2 415.7,476.0 416.4,475.7 417.1,475.4 417.8,475.0 418.5,474.6 419.2,474.2 419.9,473.7 420.6,473.1 421.3,472.4 422.0,471.7 422.7,470.8 423.4,470.0 424.1,469.0 424.8,468.1 425.5,467.1 426.2,466.1 426.9,465.2 427.6,464.3 428.3,463.4 429.0,462.6 429.7,461.9 430.4,461.2 431.1,460.6 431.8,460.0 432.5,459.5 433.2,459.2 433.9,459.0 434.6,458.8 435.3,458.8 436.0,459.0 436.7,459.3 437.4,459.7 438.1,460.4 438.8,461.2 439.5,462.2 440.2,463.3 440.9,464.6 441.6,466.0 442.3,467.5 443.0,468.9 443.7,470.1 444.4,471.3 445.1,472.3 445.8,473.3 446.5,474.2 447.2,475.0 447.9,475.7 448.6,476.3 449.3,476.9 450.0,477.4 450.7,477.8 451.4,478.2 452.1,478.6 452.8,478.8 453.5,479.0 454.2,479.2 454.9,479.4 455.6,479.5 456.3,479.6 457.0,479.7 457.7,479.8 458.4,479.9 459.1,479.9 459.8,479.9 460.5,480.0 461.2,480.0 461.9,480.0 462.6,480.0 463.3,480.1 464.0,480.1 464.7,480.1 465.4,480.1 466.1,480.1 466.8,480.2 467.5,480.2 468.2,480.2 468.9,480.2 469.6,480.2 470.3,480.3 471.0,480.3 471.7,480.3 472.4,480.3 473.1,480.3 473.8,480.3 474.5,480.4 475.2,480.4 475.9,480.4 476.6,480.4 477.3,480.4 478.0,480.4 478.7,480.4 479.4,480.5 480.1,480.5 480.8,480.5 481.5,480.5 482.2,480.5 482.9,480.5 483.6,480.5 484.3,480.5 485.0,480.5 485.7,480.5 486.4,480.5 487.1,480.5 487.8,480.6 488.5,480.6 489.2,480.6 489.9,480.6 490.6,480.6 491.3,480.6 492.0,480.6 492.7,480.6 493.4,480.6 494.1,480.6 494.8,480.6 495.5,480.6 496.2,480.6 496.9,480.6 497.6,480.6 498.3,480.6 498.8,480.6" fill="none" stroke="#2a6aab" stroke-width="1.7" stroke-linejoin="round" stroke-linecap="round"/>
<polyline points="292.5,539.9 293.2,539.9 293.9,539.9 294.6,539.9 295.3,539.9 296.0,539.9 296.7,539.9 297.4,539.9 298.1,539.9 298.8,539.8 299.5,539.8 300.2,539.8 300.9,539.8 301.6,539.8 302.3,539.8 303.0,539.7 303.7,539.7 304.4,539.7 305.1,539.7 305.8,539.6 306.5,539.6 307.2,539.6 307.9,539.5 308.6,539.5 309.3,539.5 310.0,539.4 310.7,539.4 311.4,539.3 312.1,539.3 312.8,539.2 313.5,539.2 314.2,539.1 314.9,539.1 315.6,539.0 316.3,538.9 317.0,538.9 317.7,538.8 318.4,538.7 319.1,538.7 319.8,538.6 320.5,538.5 321.2,538.3 321.9,538.0 322.6,537.5 323.3,536.9 324.0,536.3 324.7,535.6 325.4,534.7 326.1,533.7 326.8,532.6 327.5,531.4 328.2,530.0 328.9,528.4 329.6,526.7 330.3,524.8 331.0,522.7 331.7,520.6 332.4,518.5 333.1,516.4 333.8,514.6 334.5,513.1 335.2,511.7 335.9,510.7 336.6,509.8 337.3,509.4 338.0,509.2 338.7,509.1 339.4,509.3 340.1,509.6 340.8,510.3 341.5,511.2 342.2,512.6 342.9,514.2 343.6,516.1 344.3,518.4 345.0,520.6 345.7,522.7 346.4,524.7 347.1,526.5 347.8,528.2 348.5,529.8 349.2,531.2 349.9,532.5 350.6,533.5 351.3,534.4 352.0,535.2 352.7,535.9 353.4,536.5 354.1,537.0 354.8,537.4 355.5,537.7 356.2,537.9 356.9,538.0 357.6,538.2 358.3,538.3 359.0,538.4 359.7,538.5 360.4,538.6 361.1,538.7 361.8,538.8 362.5,538.8 363.2,538.9 363.9,538.9 364.6,539.0 365.3,539.0 366.0,539.1 366.7,539.1 367.4,539.1 368.1,539.2 368.8,539.2 369.5,539.2 370.2,539.3 370.9,539.3 371.6,539.4 372.3,539.4 373.0,539.4 373.7,539.5 374.4,539.5 375.1,539.5 375.8,539.5 376.5,539.6 377.2,539.6 377.9,539.6 378.6,539.6 379.3,539.7 380.0,539.7 380.7,539.7 381.4,539.7 382.1,539.8 382.8,539.8 383.5,539.8 384.2,539.8 384.9,539.8 385.6,539.9 386.3,539.9 387.0,539.9 387.7,539.9 388.4,539.9 389.1,539.9 389.8,539.9 390.5,539.9 391.2,540.0 391.9,540.0 392.6,540.0 393.3,540.0 394.0,540.0 394.7,540.0 395.4,540.0 396.1,540.0 396.8,540.0 397.5,540.0 398.2,540.0 398.9,540.0 399.6,540.0 400.3,539.9 401.0,539.8 401.7,539.8 402.4,539.7 403.1,539.6 403.8,539.5 404.5,539.4 405.2,539.2 405.9,539.1 406.6,538.9 407.3,538.8 408.0,538.6 408.7,538.5 409.4,538.3 410.1,538.1 410.8,537.9 411.5,537.7 412.2,537.5 412.9,537.2 413.6,536.9 414.3,536.6 415.0,536.2 415.7,535.8 416.4,535.4 417.1,535.0 417.8,534.5 418.5,533.9 419.2,533.2 419.9,532.3 420.6,531.3 421.3,530.1 422.0,528.9 422.7,527.4 423.4,525.8 424.1,523.9 424.8,521.9 425.5,519.4 426.2,516.7 426.9,513.9 427.6,510.9 428.3,507.8 429.0,504.7 429.7,501.4 430.4,498.3 431.1,495.6 431.8,493.1 432.5,490.8 433.2,488.8 433.9,487.0 434.6,485.4 435.3,484.0 436.0,483.0 436.7,482.5 437.4,482.5 438.1,482.8 438.8,483.6 439.5,484.8 440.2,486.4 440.9,488.5 441.6,491.3 442.3,494.5 443.0,497.7 443.7,501.3 444.4,505.5 445.1,510.4 445.8,515.4 446.5,520.5 447.2,524.2 447.9,527.0 448.6,529.3 449.3,531.3 450.0,533.1 450.7,534.5 451.4,535.5 452.1,536.3 452.8,537.0 453.5,537.5 454.2,537.9 454.9,538.3 455.6,538.6 456.3,538.9 457.0,539.1 457.7,539.2 458.4,539.3 459.1,539.4 459.8,539.5 460.5,539.6 461.2,539.6 461.9,539.7 462.6,539.8 463.3,539.8 464.0,539.9 464.7,540.0 465.4,540.0 466.1,540.0 466.8,540.1 467.5,540.1 468.2,540.1 468.9,540.1 469.6,540.1 470.3,540.1 471.0,540.1 471.7,540.1 472.4,540.1 473.1,540.1 473.8,540.1 474.5,540.1 475.2,540.1 475.9,540.1 476.6,540.1 477.3,540.1 478.0,540.1 478.7,540.1 479.4,540.1 480.1,540.1 480.8,540.1 481.5,540.1 482.2,540.1 482.9,540.1 483.6,540.1 484.3,540.1 485.0,540.1 485.7,540.1 486.4,540.1 487.1,540.1 487.8,540.1 488.5,540.1 489.2,540.1 489.9,540.1 490.6,540.1 491.3,540.1 492.0,540.1 492.7,540.1 493.4,540.1 493.8,540.1" fill="none" stroke="#2c7f32" stroke-width="1.7" stroke-linejoin="round" stroke-linecap="round"/>
<polyline points="292.5,629.3 293.2,629.3 293.9,629.3 294.6,629.3 295.3,629.3 296.0,629.3 296.7,629.3 297.4,629.3 298.1,629.3 298.8,629.3 299.5,629.2 300.2,629.2 300.9,629.2 301.6,629.2 302.3,629.2 303.0,629.2 303.7,629.2 304.4,629.1 305.1,629.1 305.8,629.1 306.5,629.1 307.2,629.0 307.9,629.0 308.6,629.0 309.3,628.9 310.0,628.9 310.7,628.9 311.4,628.8 312.1,628.8 312.8,628.7 313.5,628.7 314.2,628.6 314.9,628.6 315.6,628.5 316.3,628.5 317.0,628.4 317.7,628.4 318.4,628.3 319.1,628.2 319.8,627.9 320.5,627.4 321.2,627.0 321.9,626.5 322.6,626.1 323.3,625.5 324.0,624.8 324.7,624.1 325.4,623.1 326.1,621.8 326.8,620.4 327.5,618.8 328.2,617.2 328.9,615.4 329.6,613.3 330.3,610.9 331.0,608.0 331.7,604.9 332.4,601.7 333.1,598.2 333.8,594.7 334.5,591.1 335.2,587.4 335.9,584.1 336.6,581.1 337.3,578.3 338.0,575.6 338.7,573.6 339.4,572.5 340.1,572.0 340.8,572.5 341.5,573.6 342.2,575.0 342.9,577.0 343.6,579.6 344.3,583.0 345.0,586.7 345.7,590.9 346.4,594.8 347.1,598.4 347.8,602.0 348.5,605.6 349.2,609.1 349.9,612.2 350.6,614.7 351.3,616.8 352.0,618.7 352.7,620.2 353.4,621.6 354.1,622.8 354.8,623.8 355.5,624.4 356.2,624.9 356.9,625.3 357.6,625.7 358.3,625.9 359.0,626.2 359.7,626.4 360.4,626.7 361.1,626.9 361.8,627.0 362.5,627.2 363.2,627.3 363.9,627.4 364.6,627.4 365.3,627.5 366.0,627.6 366.7,627.7 367.4,627.7 368.1,627.8 368.8,627.9 369.5,627.9 370.2,628.0 370.9,628.0 371.6,628.1 372.3,628.2 373.0,628.2 373.7,628.3 374.4,628.3 375.1,628.4 375.8,628.4 376.5,628.5 377.2,628.5 377.9,628.6 378.6,628.6 379.3,628.6 380.0,628.7 380.7,628.7 381.4,628.8 382.1,628.8 382.8,628.8 383.5,628.9 384.2,628.9 384.9,628.9 385.6,629.0 386.3,629.0 387.0,629.0 387.7,629.0 388.4,629.1 389.1,629.1 389.8,629.1 390.5,629.1 391.2,629.1 391.9,629.1 392.6,629.2 393.3,629.2 394.0,629.2 394.7,629.2 395.4,629.2 396.1,629.2 396.8,629.2 397.5,629.2 398.2,629.2 398.9,629.2 399.6,629.1 400.3,629.0 401.0,628.9 401.7,628.8 402.4,628.7 403.1,628.5 403.8,628.3 404.5,628.1 405.2,627.9 405.9,627.7 406.6,627.5 407.3,627.2 408.0,627.0 408.7,626.7 409.4,626.5 410.1,626.2 410.8,626.0 411.5,625.7 412.2,625.3 412.9,625.0 413.6,624.6 414.3,624.2 415.0,623.7 415.7,623.2 416.4,622.7 417.1,622.2 417.8,621.6 418.5,621.0 419.2,620.3 419.9,619.5 420.6,618.6 421.3,617.5 422.0,616.3 422.7,614.9 423.4,613.1 424.1,611.2 424.8,608.8 425.5,605.7 426.2,602.1 426.9,598.3 427.6,594.2 428.3,589.7 429.0,584.2 429.7,577.7 430.4,571.3 431.1,565.2 431.8,559.4 432.5,553.8 433.2,548.5 433.9,543.6 434.6,539.1 435.3,535.2 436.0,531.8 436.7,529.2 437.4,527.1 438.1,526.0 438.8,525.2 439.5,524.7 440.2,524.8 440.9,525.6 441.6,526.9 442.3,529.0 443.0,532.7 443.7,537.1 444.4,542.5 445.1,548.5 445.8,555.3 446.5,562.5 447.2,570.0 447.9,577.3 448.6,584.1 449.3,590.7 450.0,597.3 450.7,603.6 451.4,608.2 452.1,611.9 452.8,615.0 453.5,617.9 454.2,620.7 454.9,622.7 455.6,623.8 456.3,624.7 457.0,625.4 457.7,626.0 458.4,626.5 459.1,626.8 459.8,627.2 460.5,627.5 461.2,627.8 461.9,628.0 462.6,628.1 463.3,628.2 464.0,628.2 464.7,628.3 465.4,628.3 466.1,628.4 466.8,628.4 467.5,628.4 468.2,628.5 468.9,628.5 469.6,628.5 470.3,628.6 471.0,628.6 471.7,628.6 472.4,628.7 473.1,628.7 473.8,628.7 474.5,628.7 475.2,628.8 475.9,628.8 476.6,628.8 477.3,628.8 478.0,628.9 478.7,628.9 479.4,628.9 480.1,628.9 480.8,628.9 481.5,628.9 482.2,629.0 482.9,629.0 483.6,629.0 484.3,629.0 485.0,629.0 485.7,629.0 486.4,629.1 487.1,629.1 487.8,629.1 488.5,629.1 489.2,629.1 489.9,629.1 490.6,629.1 491.3,629.1 492.0,629.1 492.7,629.1 493.4,629.2 494.1,629.2 494.8,629.2 495.5,629.2 496.2,629.2 496.9,629.2 497.6,629.2 498.3,629.2 499.0,629.2 499.7,629.2 500.4,629.2 501.1,629.2 501.8,629.2 502.5,629.2 503.2,629.2 503.9,629.2 504.5,629.2" fill="none" stroke="#ea8a36" stroke-width="1.7" stroke-linejoin="round" stroke-linecap="round"/>
<polyline points="292.5,674.0 293.2,674.0 293.9,674.0 294.6,674.0 295.3,674.0 296.0,674.0 296.7,674.0 297.4,674.0 298.1,674.0 298.8,674.0 299.5,674.0 300.2,674.0 300.9,674.0 301.6,674.0 302.3,674.0 303.0,673.9 303.7,673.9 304.4,673.9 305.1,673.9 305.8,673.9 306.5,673.9 307.2,673.9 307.9,673.9 308.6,673.8 309.3,673.8 310.0,673.8 310.7,673.8 311.4,673.8 312.1,673.8 312.8,673.7 313.5,673.7 314.2,673.7 314.9,673.7 315.6,673.6 316.3,673.6 317.0,673.6 317.7,673.5 318.4,673.5 319.1,673.5 319.8,673.4 320.5,673.4 321.2,673.2 321.9,672.9 322.6,672.4 323.3,671.8 324.0,671.1 324.7,670.2 325.4,669.1 326.1,668.0 326.8,666.7 327.5,665.4 328.2,664.0 328.9,662.4 329.6,660.8 330.3,658.8 331.0,656.8 331.7,654.7 332.4,652.7 333.1,650.6 333.8,648.6 334.5,646.6 335.2,644.7 335.9,643.2 336.6,642.0 337.3,641.0 338.0,640.5 338.7,640.1 339.4,639.9 340.1,639.8 340.8,640.1 341.5,640.6 342.2,641.3 342.9,642.2 343.6,643.6 344.3,645.5 345.0,647.6 345.7,649.9 346.4,652.5 347.1,655.0 347.8,657.4 348.5,659.7 349.2,661.8 349.9,663.9 350.6,665.8 351.3,667.2 352.0,668.3 352.7,669.3 353.4,670.0 354.1,670.7 354.8,671.3 355.5,671.8 356.2,672.2 356.9,672.5 357.6,672.7 358.3,672.8 359.0,673.0 359.7,673.1 360.4,673.2 361.1,673.3 361.8,673.3 362.5,673.4 363.2,673.5 363.9,673.5 364.6,673.6 365.3,673.6 366.0,673.7 366.7,673.7 367.4,673.8 368.1,673.8 368.8,673.8 369.5,673.9 370.2,673.9 370.9,673.9 371.6,674.0 372.3,674.0 373.0,674.0 373.7,674.0 374.4,674.0 375.1,674.0 375.8,674.0 376.5,674.0 377.2,674.0 377.9,674.0 378.6,674.0 379.3,674.0 380.0,674.0 380.7,674.0 381.4,674.0 382.1,674.0 382.8,673.9 383.5,673.9 384.2,673.9 384.9,673.9 385.6,673.9 386.3,673.9 387.0,673.9 387.7,673.9 388.4,673.9 389.1,673.8 389.8,673.8 390.5,673.8 391.2,673.8 391.9,673.8 392.6,673.8 393.3,673.7 394.0,673.7 394.7,673.7 395.4,673.7 396.1,673.7 396.8,673.6 397.5,673.6 398.2,673.6 398.9,673.6 399.6,673.5 400.3,673.5 401.0,673.4 401.7,673.3 402.4,673.2 403.1,673.1 403.8,673.0 404.5,672.9 405.2,672.7 405.9,672.6 406.6,672.4 407.3,672.3 408.0,672.1 408.7,671.9 409.4,671.7 410.1,671.5 410.8,671.3 411.5,671.1 412.2,670.8 412.9,670.4 413.6,670.0 414.3,669.6 415.0,669.1 415.7,668.6 416.4,668.1 417.1,667.5 417.8,666.9 418.5,666.3 419.2,665.5 419.9,664.6 420.6,663.5 421.3,662.3 422.0,661.1 422.7,659.6 423.4,658.0 424.1,656.3 424.8,654.3 425.5,652.1 426.2,649.6 426.9,647.2 427.6,644.8 428.3,642.2 429.0,639.3 429.7,635.9 430.4,632.5 431.1,629.4 431.8,626.3 432.5,623.4 433.2,620.6 433.9,617.8 434.6,615.5 435.3,613.5 436.0,611.6 436.7,609.7 437.4,608.6 438.1,608.0 438.8,607.7 439.5,608.0 440.2,608.7 440.9,609.9 441.6,611.8 442.3,614.2 443.0,617.2 443.7,620.5 444.4,624.0 445.1,627.8 445.8,632.2 446.5,636.6 447.2,640.9 447.9,645.0 448.6,648.9 449.3,652.7 450.0,656.5 450.7,660.0 451.4,662.7 452.1,665.0 452.8,666.8 453.5,668.2 454.2,669.4 454.9,670.3 455.6,670.9 456.3,671.4 457.0,671.8 457.7,672.2 458.4,672.4 459.1,672.6 459.8,672.8 460.5,672.9 461.2,673.0 461.9,673.1 462.6,673.2 463.3,673.2 464.0,673.2 464.7,673.2 465.4,673.3 466.1,673.3 466.8,673.3 467.5,673.3 468.2,673.3 468.9,673.3 469.6,673.3 470.3,673.3 471.0,673.4 471.7,673.4 472.4,673.4 473.1,673.4 473.8,673.4 474.5,673.4 475.2,673.4 475.9,673.4 476.6,673.4 477.3,673.5 478.0,673.5 478.7,673.5 479.4,673.5 480.1,673.5 480.8,673.5 481.5,673.5 482.2,673.5 482.9,673.5 483.6,673.5 484.3,673.5 485.0,673.5 485.7,673.5 486.4,673.5 487.1,673.5 487.8,673.6 488.5,673.6 489.2,673.6 489.9,673.6 490.6,673.6 491.3,673.6 492.0,673.6 492.7,673.6 493.4,673.6 494.1,673.6 494.8,673.6 495.5,673.6 496.2,673.6 496.9,673.6 497.6,673.6 498.3,673.6 499.0,673.6 499.7,673.6 500.4,673.6 501.1,673.6 501.8,673.6 502.5,673.6 503.2,673.6 503.9,673.6 504.5,673.6" fill="none" stroke="#d81b2e" stroke-width="1.7" stroke-linejoin="round" stroke-linecap="round"/>
<rect x="292.5" y="376.4" width="212.00" height="297.60" fill="none" stroke="#111111" stroke-width="1.4"/>
<path d="M319.00 674.0v-2.9M319.00 376.4v2.9M345.50 674.0v-5.8M345.50 376.4v5.8M372.00 674.0v-2.9M372.00 376.4v2.9M398.50 674.0v-5.8M398.50 376.4v5.8M425.00 674.0v-2.9M425.00 376.4v2.9M451.50 674.0v-5.8M451.50 376.4v5.8M478.00 674.0v-2.9M478.00 376.4v2.9" stroke="#111111" stroke-width="1.3" fill="none"/>
<path d="M292.5 636.80h2.9M504.5 636.80h-2.9M292.5 599.60h5.8M504.5 599.60h-5.8M292.5 562.40h2.9M504.5 562.40h-2.9M292.5 525.20h5.8M504.5 525.20h-5.8M292.5 488.00h2.9M504.5 488.00h-2.9M292.5 450.80h5.8M504.5 450.80h-5.8M292.5 413.60h2.9M504.5 413.60h-2.9" stroke="#111111" stroke-width="1.3" fill="none"/>
<text x="42.95" y="38.30" font-size="29.4" fill="#111" stroke="#111" stroke-width="0.3" font-family='"Carlito","Liberation Sans",sans-serif' textLength="91.29" lengthAdjust="spacingAndGlyphs">(a) C 1s</text>
<text x="300.89" y="40.10" font-size="29.4" fill="#111" stroke="#111" stroke-width="0.3" font-family='"Carlito","Liberation Sans",sans-serif' textLength="94.33" lengthAdjust="spacingAndGlyphs">(b) N 1s</text>
<text x="41.86" y="416.20" font-size="29.4" fill="#111" stroke="#111" stroke-width="0.3" font-family='"Carlito","Liberation Sans",sans-serif' textLength="100.35" lengthAdjust="spacingAndGlyphs">(c) Cl 2p</text>
<text x="299.28" y="417.30" font-size="29.4" fill="#111" stroke="#111" stroke-width="0.3" font-family='"Carlito","Liberation Sans",sans-serif' textLength="174.84" lengthAdjust="spacingAndGlyphs">(d) Sb 3d/O 1s</text>
<text x="181.29" y="102.00" font-size="21.4" fill="#1f5ea3" font-family='"Carlito","Liberation Sans",sans-serif' textLength="58.16" lengthAdjust="spacingAndGlyphs">175<tspan font-family='"Liberation Sans",Arial,sans-serif' font-size="23.97">°</tspan>C</text>
<text x="180.98" y="180.50" font-size="21.4" fill="#1d6326" font-family='"Carlito","Liberation Sans",sans-serif' textLength="58.48" lengthAdjust="spacingAndGlyphs">125<tspan font-family='"Liberation Sans",Arial,sans-serif' font-size="23.97">°</tspan>C</text>
<text x="193.60" y="228.00" font-size="21.4" fill="#b85a26" font-family='"Carlito","Liberation Sans",sans-serif' textLength="45.85" lengthAdjust="spacingAndGlyphs">75<tspan font-family='"Liberation Sans",Arial,sans-serif' font-size="23.97">°</tspan>C</text>
<text x="193.67" y="283.40" font-size="21.4" fill="#d9141f" font-family='"Carlito","Liberation Sans",sans-serif' textLength="45.78" lengthAdjust="spacingAndGlyphs">25<tspan font-family='"Liberation Sans",Arial,sans-serif' font-size="23.97">°</tspan>C</text>
<text x="433.21" y="94.40" font-size="21.1" fill="#1f5ea3" font-family='"Carlito","Liberation Sans",sans-serif' textLength="59.16" lengthAdjust="spacingAndGlyphs">175<tspan font-family='"Liberation Sans",Arial,sans-serif' font-size="23.63">°</tspan>C</text>
<text x="433.15" y="156.60" font-size="21.1" fill="#1d6326" font-family='"Carlito","Liberation Sans",sans-serif' textLength="59.21" lengthAdjust="spacingAndGlyphs">125<tspan font-family='"Liberation Sans",Arial,sans-serif' font-size="23.63">°</tspan>C</text>
<text x="446.81" y="220.20" font-size="21.1" fill="#b85a26" font-family='"Carlito","Liberation Sans",sans-serif' textLength="45.54" lengthAdjust="spacingAndGlyphs">75<tspan font-family='"Liberation Sans",Arial,sans-serif' font-size="23.63">°</tspan>C</text>
<text x="446.47" y="276.00" font-size="21.1" fill="#d9141f" font-family='"Carlito","Liberation Sans",sans-serif' textLength="45.88" lengthAdjust="spacingAndGlyphs">25<tspan font-family='"Liberation Sans",Arial,sans-serif' font-size="23.63">°</tspan>C</text>
<text x="181.98" y="476.25" font-size="21.0" fill="#1f5ea3" font-family='"Carlito","Liberation Sans",sans-serif' textLength="58.37" lengthAdjust="spacingAndGlyphs">175<tspan font-family='"Liberation Sans",Arial,sans-serif' font-size="23.52">°</tspan>C</text>
<text x="181.98" y="540.80" font-size="21.0" fill="#1d6326" font-family='"Carlito","Liberation Sans",sans-serif' textLength="58.37" lengthAdjust="spacingAndGlyphs">125<tspan font-family='"Liberation Sans",Arial,sans-serif' font-size="23.52">°</tspan>C</text>
<text x="194.71" y="597.70" font-size="21.0" fill="#b85a26" font-family='"Carlito","Liberation Sans",sans-serif' textLength="45.64" lengthAdjust="spacingAndGlyphs">75<tspan font-family='"Liberation Sans",Arial,sans-serif' font-size="23.52">°</tspan>C</text>
<text x="194.57" y="651.80" font-size="21.0" fill="#d9141f" font-family='"Carlito","Liberation Sans",sans-serif' textLength="45.78" lengthAdjust="spacingAndGlyphs">25<tspan font-family='"Liberation Sans",Arial,sans-serif' font-size="23.52">°</tspan>C</text>
<text x="445.86" y="467.25" font-size="20.8" fill="#1f5ea3" font-family='"Carlito","Liberation Sans",sans-serif' textLength="54.77" lengthAdjust="spacingAndGlyphs">175<tspan font-family='"Liberation Sans",Arial,sans-serif' font-size="23.30">°</tspan>C</text>
<text x="445.60" y="513.20" font-size="20.8" fill="#1d6326" font-family='"Carlito","Liberation Sans",sans-serif' textLength="55.03" lengthAdjust="spacingAndGlyphs">125<tspan font-family='"Liberation Sans",Arial,sans-serif' font-size="23.30">°</tspan>C</text>
<text x="457.26" y="592.60" font-size="20.8" fill="#b85a26" font-family='"Carlito","Liberation Sans",sans-serif' textLength="43.36" lengthAdjust="spacingAndGlyphs">75<tspan font-family='"Liberation Sans",Arial,sans-serif' font-size="23.30">°</tspan>C</text>
<text x="457.32" y="658.30" font-size="20.8" fill="#d9141f" font-family='"Carlito","Liberation Sans",sans-serif' textLength="43.30" lengthAdjust="spacingAndGlyphs">25<tspan font-family='"Liberation Sans",Arial,sans-serif' font-size="23.30">°</tspan>C</text>
<text x="20.99" y="320.60" font-size="17.4" fill="#111" stroke="#111" stroke-width="0.28" font-family='"Liberation Sans",Arial,sans-serif' textLength="29.03" lengthAdjust="spacingAndGlyphs">290</text>
<text x="63.52" y="320.60" font-size="17.4" fill="#111" stroke="#111" stroke-width="0.28" font-family='"Liberation Sans",Arial,sans-serif' textLength="29.03" lengthAdjust="spacingAndGlyphs">288</text>
<text x="106.03" y="320.60" font-size="17.4" fill="#111" stroke="#111" stroke-width="0.28" font-family='"Liberation Sans",Arial,sans-serif' textLength="29.03" lengthAdjust="spacingAndGlyphs">286</text>
<text x="148.40" y="320.60" font-size="17.4" fill="#111" stroke="#111" stroke-width="0.28" font-family='"Liberation Sans",Arial,sans-serif' textLength="29.03" lengthAdjust="spacingAndGlyphs">284</text>
<text x="191.08" y="320.60" font-size="17.4" fill="#111" stroke="#111" stroke-width="0.28" font-family='"Liberation Sans",Arial,sans-serif' textLength="29.03" lengthAdjust="spacingAndGlyphs">282</text>
<text x="233.49" y="320.60" font-size="17.4" fill="#111" stroke="#111" stroke-width="0.28" font-family='"Liberation Sans",Arial,sans-serif' textLength="29.03" lengthAdjust="spacingAndGlyphs">280</text>
<text x="299.32" y="320.00" font-size="17.4" fill="#111" stroke="#111" stroke-width="0.28" font-family='"Liberation Sans",Arial,sans-serif' textLength="29.03" lengthAdjust="spacingAndGlyphs">404</text>
<text x="341.86" y="320.00" font-size="17.4" fill="#111" stroke="#111" stroke-width="0.28" font-family='"Liberation Sans",Arial,sans-serif' textLength="29.03" lengthAdjust="spacingAndGlyphs">402</text>
<text x="384.12" y="320.00" font-size="17.4" fill="#111" stroke="#111" stroke-width="0.28" font-family='"Liberation Sans",Arial,sans-serif' textLength="29.03" lengthAdjust="spacingAndGlyphs">400</text>
<text x="426.39" y="320.00" font-size="17.4" fill="#111" stroke="#111" stroke-width="0.28" font-family='"Liberation Sans",Arial,sans-serif' textLength="29.03" lengthAdjust="spacingAndGlyphs">398</text>
<text x="468.76" y="320.00" font-size="17.4" fill="#111" stroke="#111" stroke-width="0.28" font-family='"Liberation Sans",Arial,sans-serif' textLength="29.03" lengthAdjust="spacingAndGlyphs">396</text>
<text x="20.99" y="694.40" font-size="17.4" fill="#111" stroke="#111" stroke-width="0.28" font-family='"Liberation Sans",Arial,sans-serif' textLength="29.03" lengthAdjust="spacingAndGlyphs">210</text>
<text x="74.14" y="694.40" font-size="17.4" fill="#111" stroke="#111" stroke-width="0.28" font-family='"Liberation Sans",Arial,sans-serif' textLength="29.03" lengthAdjust="spacingAndGlyphs">205</text>
<text x="127.24" y="694.40" font-size="17.4" fill="#111" stroke="#111" stroke-width="0.28" font-family='"Liberation Sans",Arial,sans-serif' textLength="29.03" lengthAdjust="spacingAndGlyphs">200</text>
<text x="180.16" y="694.40" font-size="17.4" fill="#111" stroke="#111" stroke-width="0.28" font-family='"Liberation Sans",Arial,sans-serif' textLength="29.03" lengthAdjust="spacingAndGlyphs">195</text>
<text x="233.26" y="694.40" font-size="17.4" fill="#111" stroke="#111" stroke-width="0.28" font-family='"Liberation Sans",Arial,sans-serif' textLength="29.03" lengthAdjust="spacingAndGlyphs">190</text>
<text x="278.00" y="694.40" font-size="17.4" fill="#111" stroke="#111" stroke-width="0.28" font-family='"Liberation Sans",Arial,sans-serif' textLength="29.03" lengthAdjust="spacingAndGlyphs">545</text>
<text x="330.98" y="694.40" font-size="17.4" fill="#111" stroke="#111" stroke-width="0.28" font-family='"Liberation Sans",Arial,sans-serif' textLength="29.03" lengthAdjust="spacingAndGlyphs">540</text>
<text x="384.00" y="694.40" font-size="17.4" fill="#111" stroke="#111" stroke-width="0.28" font-family='"Liberation Sans",Arial,sans-serif' textLength="29.03" lengthAdjust="spacingAndGlyphs">535</text>
<text x="436.98" y="694.40" font-size="17.4" fill="#111" stroke="#111" stroke-width="0.28" font-family='"Liberation Sans",Arial,sans-serif' textLength="29.03" lengthAdjust="spacingAndGlyphs">530</text>
<text x="490.00" y="694.40" font-size="17.4" fill="#111" stroke="#111" stroke-width="0.28" font-family='"Liberation Sans",Arial,sans-serif' textLength="29.03" lengthAdjust="spacingAndGlyphs">525</text>
<text x="51.11" y="351.20" font-size="20.6" fill="#111" stroke="#111" stroke-width="0.28" font-family='"Liberation Sans",Arial,sans-serif' textLength="181.66" lengthAdjust="spacingAndGlyphs">Binding energy (eV)</text>
<text x="307.31" y="351.40" font-size="20.6" fill="#111" stroke="#111" stroke-width="0.28" font-family='"Liberation Sans",Arial,sans-serif' textLength="182.27" lengthAdjust="spacingAndGlyphs">Binding energy (eV)</text>
<text x="50.51" y="725.80" font-size="20.6" fill="#111" stroke="#111" stroke-width="0.28" font-family='"Liberation Sans",Arial,sans-serif' textLength="182.27" lengthAdjust="spacingAndGlyphs">Binding energy (eV)</text>
<text x="307.92" y="725.40" font-size="20.6" fill="#111" stroke="#111" stroke-width="0.28" font-family='"Liberation Sans",Arial,sans-serif' textLength="181.46" lengthAdjust="spacingAndGlyphs">Binding energy (eV)</text>
<text x="-194.75" y="0.00" font-size="20.6" fill="#111" stroke="#111" stroke-width="0.28" font-family='"Liberation Sans",Arial,sans-serif' textLength="96.23" lengthAdjust="spacingAndGlyphs" transform="translate(16.2,0) rotate(-90)">CPS (a.u.)</text>
<text x="-195.45" y="0.00" font-size="20.6" fill="#111" stroke="#111" stroke-width="0.28" font-family='"Liberation Sans",Arial,sans-serif' textLength="96.23" lengthAdjust="spacingAndGlyphs" transform="translate(273.3,0) rotate(-90)">CPS (a.u.)</text>
<text x="-569.75" y="0.00" font-size="20.6" fill="#111" stroke="#111" stroke-width="0.28" font-family='"Liberation Sans",Arial,sans-serif' textLength="96.74" lengthAdjust="spacingAndGlyphs" transform="translate(16.5,0) rotate(-90)">CPS (a.u.)</text>
<text x="-570.45" y="0.00" font-size="20.6" fill="#111" stroke="#111" stroke-width="0.28" font-family='"Liberation Sans",Arial,sans-serif' textLength="96.23" lengthAdjust="spacingAndGlyphs" transform="translate(273.8,0) rotate(-90)">CPS (a.u.)</text>
</svg></body></html>
